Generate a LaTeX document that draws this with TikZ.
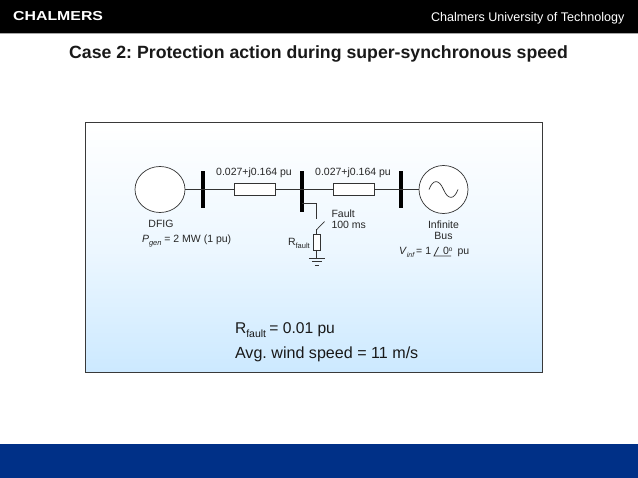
\documentclass[tikz,border=0pt]{standalone}
\usepackage{fontspec}
\setmainfont{Liberation Sans}
\frenchspacing
\usetikzlibrary{calc,shapes.geometric}
\definecolor{chblue}{HTML}{003087}
\definecolor{panelblue}{HTML}{CCE9FF}
\definecolor{wireg}{HTML}{333333}
\tikzset{
  wire/.style={draw=wireg,line width=0.7pt},
  busbar/.style={fill=black,draw=none,minimum width=4pt,inner sep=0pt,outer sep=0pt},
  imped/.style={draw=wireg,fill=white,line width=0.7pt,inner sep=0pt,outer sep=0pt,minimum width=41pt,minimum height=12.5pt},
  rfaultbox/.style={draw=wireg,fill=white,line width=0.7pt,inner sep=0pt,outer sep=0pt,minimum width=7pt,minimum height=16pt},
  machine/.style={draw=wireg,fill=white,line width=0.7pt,ellipse,inner sep=0pt,outer sep=0pt},
  lbl/.style={inner sep=0pt,outer sep=0pt,font=\fontsize{10.5}{12}\selectfont,text=black!85},
  big/.style={inner sep=0pt,outer sep=0pt,anchor=base west,font=\fontsize{16.1}{19}\selectfont,text=black!90}
}
\begin{document}
\begin{tikzpicture}[x=1pt,y=-1pt]
\useasboundingbox (0,0) rectangle (638,478);
\fill[white] (0,0) rectangle (638,478);
% header and footer
\fill[black] (0,0) rectangle (638,33);
\fill[gray!70] (0,33) rectangle (638,33.8);
\fill[chblue] (0,444.5) rectangle (638,478);
\node[inner sep=0pt,anchor=base west,text=white,font=\bfseries\fontsize{13}{15}\selectfont] (logo) at (13,21) {\scalebox{1.22}[1]{CHALMERS}};
\node[inner sep=0pt,anchor=base east,text=white,font=\fontsize{12.55}{15}\selectfont] (uni) at (624.5,21.5) {Chalmers University of Technology};
\node[inner sep=0pt,anchor=base west,text=black!90,font=\bfseries\fontsize{17.7}{20}\selectfont] (title) at (69,58.5) {Case 2: Protection action during super-synchronous speed};
% panel
\shade[top color=white,bottom color=panelblue,middle color=white!65!panelblue] (85,122) rectangle (542,372);
\draw[draw=black!55!gray,line width=0.8pt] (85,122) rectangle (542,372);
% elements
\node[machine,minimum width=50pt,minimum height=46pt] (dfig) at (160,189.5) {};
\node[machine,minimum width=49pt,minimum height=48pt] (inf) at (443.5,189.5) {};
\node[busbar,minimum height=37pt] (b1) at (202.5,189.5) {};
\node[busbar,minimum height=41pt] (b2) at (301.5,191.5) {};
\node[busbar,minimum height=37pt] (b3) at (400.7,189.5) {};
\node[imped] (z1) at (254.5,189.5) {};
\node[imped] (z2) at (353.5,189.5) {};
\node[rfaultbox] (rf) at (316.8,242) {};
\draw[wire] (dfig.east) -- (b1.center);
\draw[wire] (b1.center) -- (z1.west);
\draw[wire] (z1.east) -- (b2.center |- z1.east);
\draw[wire] (b2.center |- z2.west) -- (z2.west);
\draw[wire] (z2.east) -- (b3.center);
\draw[wire] (b3.center) -- (inf.west);
% fault branch
\coordinate (swtop) at (316.8,219.5);
\coordinate (swbot) at (316.8,229.5);
\coordinate (swtip) at (324.5,221.5);
\coordinate (gnd) at (316.8,258);
\draw[wire] (b2.center |- 0,203) -| (swtop);
\draw[wire] (swbot) -- (swtip);
\draw[wire] (swbot) -- (rf.north);
\draw[wire] (rf.south) -- (gnd);
\draw[wire] ($(gnd)+(-8,0)$) -- ($(gnd)+(8,0)$);
\draw[wire] ($(gnd)+(-5,3.5)$) -- ($(gnd)+(5,3.5)$);
\draw[wire] ($(gnd)+(-2,7)$) -- ($(gnd)+(2,7)$);
% sine
\draw[wire] (429,189.5) .. controls (433,179) and (439,179) .. (443.5,189.5) .. controls (448,200) and (454,200) .. (458,189.5);
% labels
\node[lbl,anchor=base] (lz1) at (254,176) {0.027+j0.164 pu};
\node[lbl,anchor=base] (lz2) at (353,176) {0.027+j0.164 pu};
\node[lbl,anchor=base west] (lf1) at (331.5,217.5) {Fault};
\node[lbl,anchor=base west] (lf2) at (331.5,228.5) {100 ms};
\node[lbl,anchor=base] (ldfig) at (161,228) {DFIG};
\node[lbl,anchor=base west] (lp) at (142,243) {\textit{P}\raisebox{-2.2pt}{\fontsize{7.5}{8}\selectfont\textit{gen}} = 2 MW (1 pu)};
\node[lbl,anchor=base west] (lr) at (288,246) {R\raisebox{-2.2pt}{\fontsize{7.5}{8}\selectfont fault}};
\node[lbl,anchor=base] (linf1) at (443.5,229) {Infinite};
\node[lbl,anchor=base] (linf2) at (443.5,240) {Bus};
\node[lbl,anchor=base west] (lv) at (399,255) {\textit{V}\raisebox{-2.2pt}{\fontsize{7}{8}\selectfont\textit{inf}}\hspace{-1.5pt} = 1};
\node[lbl,anchor=base west] (lang) at (443,255) {0\raisebox{3pt}{\fontsize{6.5}{8}\selectfont o}};
\node[lbl,anchor=base west] (lpu) at (457.5,255) {pu};
\draw[wire] (438.5,247) -- (434,256) -- (451,256);
\node[big,font=\fontsize{15.6}{19}\selectfont] (t1) at (235,334) {R\raisebox{-3.5pt}{\fontsize{10.5}{13}\selectfont fault}\hspace{-1pt} = 0.01 pu};
\node[big] (t2) at (235,359) {Avg. wind speed = 11 m/s};
\end{tikzpicture}
\end{document}
